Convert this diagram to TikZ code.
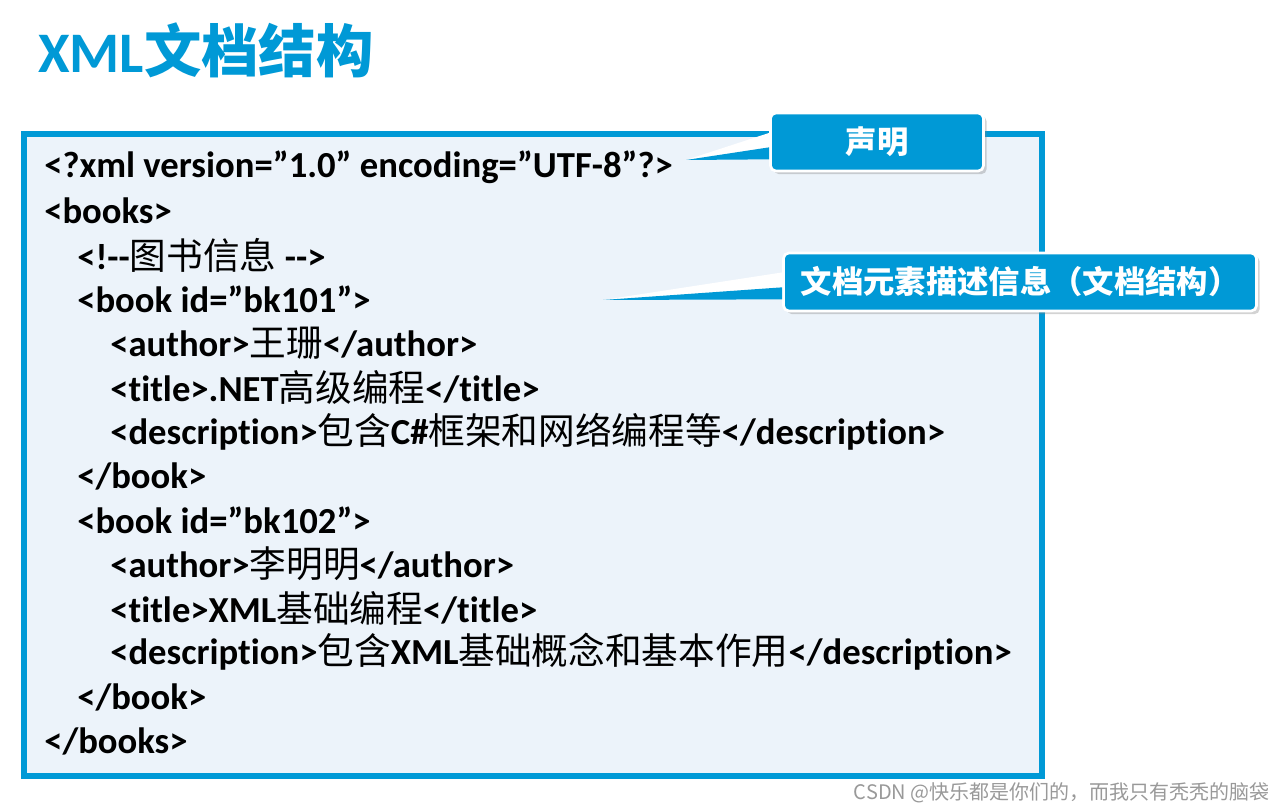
\documentclass[tikz,border=0pt]{standalone}
\usepackage{fontspec}
\setmainfont{Carlito}[Ligatures=NoCommon]
\newfontfamily\cjk{Noto Sans CJK SC}
\usetikzlibrary{shadows}
\definecolor{mblue}{RGB}{0,153,214}
\definecolor{bgfill}{RGB}{236,243,250}
\tikzset{
 code/.style={anchor=west,inner sep=0pt,font=\bfseries\fontsize{27.5}{32}\selectfont},
 call/.style={fill=mblue,draw=white,line width=2pt,rounded corners=4pt,drop shadow={opacity=0.35},text=white,font=\cjk\bfseries\fontsize{23.5}{28}\selectfont},
}
\newcommand\cj[1]{{\cjk\mdseries #1}}
\newcommand\qq{\char34\relax}
\begin{document}
\begin{tikzpicture}[x=0.75pt,y=-0.75pt]
\useasboundingbox (0,0) rectangle (1283,812);
\node[anchor=west,text=mblue,font=\bfseries\fontsize{43}{50}\selectfont,inner sep=0pt] (title) at (38,50) {XML\cjk 文档结构};
\draw[mblue,line width=4pt,fill=bgfill] (24,134) rectangle (1042,776);
\node[code] (l1) at (44,167) {<?xml version=\qq1.0\qq{} encoding=\qq UTF-8\qq?>};
\node[code] (l2) at (44,211) {<books>};
\node[code] (l3) at (77,255) {<!-{}-\cj{图书信息} -{}->};
\node[code] (l4) at (77,299) {<book id=\qq bk101\qq>};
\node[code] (l5) at (110,343) {<author>\cj{王珊}</author>};
\node[code] (l6) at (110,387) {<title>.NET\cj{高级编程}</title>};
\node[code] (l7) at (110,432) {<description>\cj{包含}C\#\cj{框架和网络编程等}</description>};
\node[code] (l8) at (77,476) {</book>};
\node[code] (l9) at (77,520) {<book id=\qq bk102\qq>};
\node[code] (l10) at (110,564) {<author>\cj{李明明}</author>};
\node[code] (l11) at (110,608) {<title>XML\cj{基础编程}</title>};
\node[code] (l12) at (110,652) {<description>\cj{包含}XML\cj{基础概念和基本作用}</description>};
\node[code] (l13) at (77,697) {</book>};
\node[code] (l14) at (44,741) {</books>};
\coordinate (p1) at (686,160);
\coordinate (p2) at (603,300);
\fill[white] (p1) -- (772,132) -- (772,152) -- cycle;
\fill[white] (p2) -- (785,272) -- (785,292) -- cycle;
\node[call,minimum width=213pt*0.75,minimum height=58pt*0.75] (c1) at (877,142) {声明};
\node[call,minimum width=473pt*0.75,minimum height=58pt*0.75] (c2) at (1020,282) {文档元素描述信息（文档结构）};
\fill[mblue] (p1) -- ([yshift=-4pt]c1.west) -- ([yshift=-13pt]c1.west) -- cycle;
\fill[mblue] (p2) -- ([yshift=-4pt]c2.west) -- ([yshift=-13pt]c2.west) -- cycle;
\node[anchor=east,text=gray!80,font=\cjk\fontsize{15}{17}\selectfont,inner sep=0pt] (wm) at (1270,793) {CSDN @快乐都是你们的，而我只有秃秃的脑袋};
\end{tikzpicture}
\end{document}
